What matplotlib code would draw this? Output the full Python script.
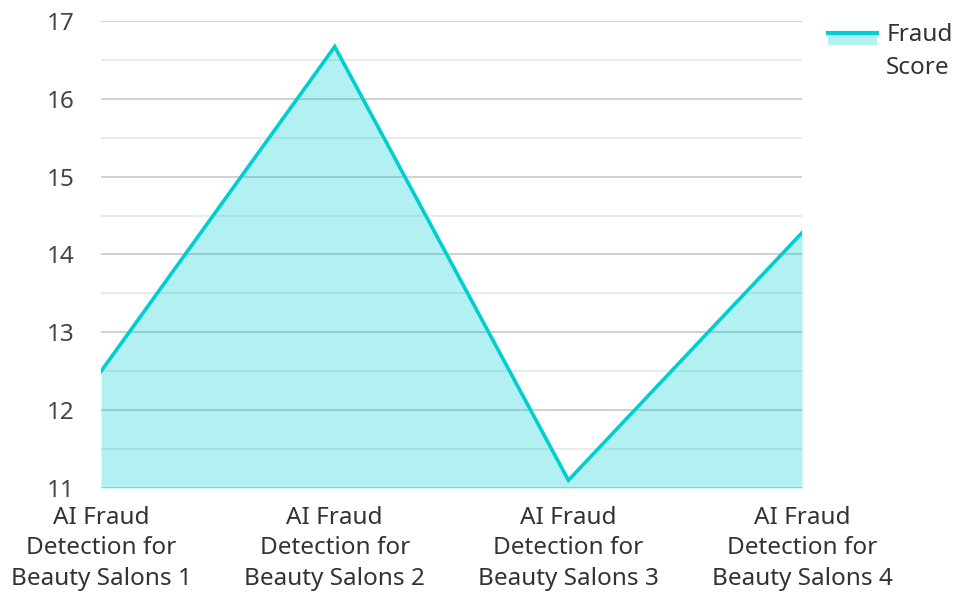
import matplotlib
matplotlib.use("Agg")
import matplotlib.pyplot as plt
from matplotlib.patches import Rectangle
from matplotlib.lines import Line2D

plt.rcParams['font.family'] = ['Noto Sans', 'DejaVu Sans']

categories = ["AI Fraud\nDetection for\nBeauty Salons 1",
              "AI Fraud\nDetection for\nBeauty Salons 2",
              "AI Fraud\nDetection for\nBeauty Salons 3",
              "AI Fraud\nDetection for\nBeauty Salons 4"]
fraud_score = [12.5, 16.67, 11.1, 14.28]
y_ticks = [11, 12, 13, 14, 15, 16, 17]
y_minor = [11.5, 12.5, 13.5, 14.5, 15.5, 16.5]
series_name = "Fraud\nScore"

LINE = "#00CED1"
TEXT = "#444444"
FS = 17.5

fig = plt.figure(figsize=(9.56, 5.93), dpi=100)
ax = fig.add_axes([0.1057, 0.177, 0.7333, 0.7877])

x = list(range(len(categories)))
ax.fill_between(x, fraud_score, 11, color=LINE, alpha=0.3, linewidth=0, zorder=3)
ax.plot(x, fraud_score, color=LINE, linewidth=2.6, zorder=4, solid_joinstyle="miter")

ax.set_xlim(0, 3)
ax.set_ylim(11, 17)
ax.set_yticks(y_ticks)
ax.set_yticks(y_minor, minor=True)
ax.grid(True, axis="y", which="major", color="#c8c8c8", linewidth=1.2, zorder=1)
ax.grid(True, axis="y", which="minor", color="#e6e6e6", linewidth=1.2, zorder=1)
ax.set_xticks(x)
ax.set_xticklabels(categories, fontsize=FS, color="#333333", linespacing=1.35)
ax.tick_params(axis="y", labelsize=FS, labelcolor=TEXT, length=0, pad=19, which="both")
ax.tick_params(axis="x", length=0, pad=13)
for s in ax.spines.values():
    s.set_visible(False)

# 图例 (手画: 线 + 浅色填充)
fig.patches.append(Rectangle((0.866, 0.924), 0.051, 0.02, transform=fig.transFigure,
                             facecolor=LINE, alpha=0.3, edgecolor="none"))
fig.lines.append(Line2D([0.866, 0.917], [0.944, 0.944], transform=fig.transFigure,
                        color=LINE, linewidth=3))
name1, name2 = series_name.split("\n")
fig.text(0.927, 0.941, name1, fontsize=FS, color="#333333", va="center", ha="left")
fig.text(0.927, 0.886, name2, fontsize=FS, color="#333333", va="center", ha="left")

fig.savefig("out.png", dpi=100, facecolor="white")
